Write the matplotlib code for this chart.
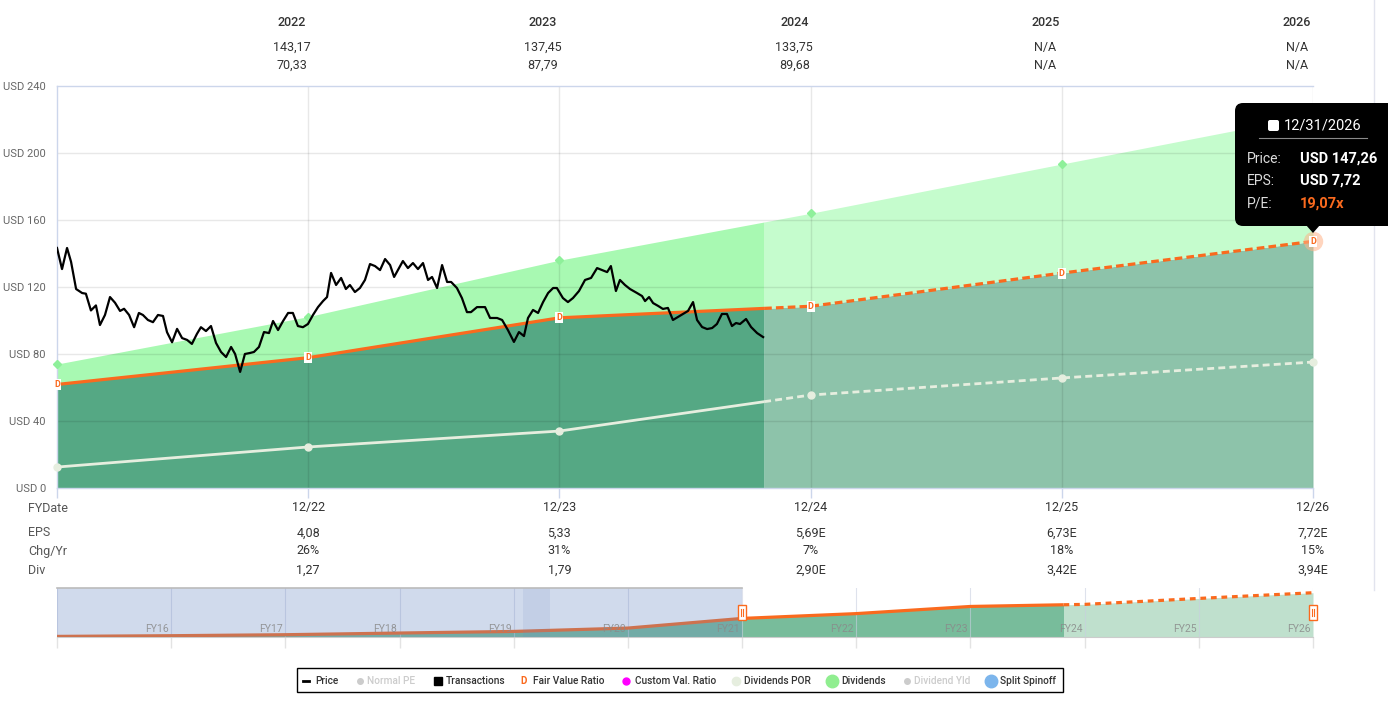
import matplotlib
matplotlib.use('Agg')
import matplotlib.pyplot as plt
import numpy as np
from matplotlib import transforms
from matplotlib.patches import FancyBboxPatch, Rectangle, Polygon

plt.rcParams['font.family'] = ['Roboto', 'DejaVu Sans']

# ---------------- data ----------------
fy_pos = [0, 1, 2, 3, 4, 5]
fy_labels = ['', '12/22', '12/23', '12/24', '12/25', '12/26']
fair_value = [61.8, 77.8, 101.6, 108.5, 128.3, 147.26]
div_por = [12.5, 24.5, 34.0, 55.5, 65.7, 75.2]
div_top = [74.0, 102.3, 136.0, 164.0, 193.4, 222.5]
today = 2.815

price_t = [0.000, 0.020, 0.040, 0.056, 0.076, 0.100, 0.115, 0.135, 0.155, 0.171,
           0.191, 0.211, 0.231, 0.251, 0.267, 0.287, 0.307, 0.326, 0.342, 0.362,
           0.382, 0.402, 0.422, 0.438, 0.458, 0.478, 0.498, 0.518, 0.537, 0.557,
           0.573, 0.593, 0.613, 0.633, 0.653, 0.673, 0.693, 0.709, 0.729, 0.748,
           0.768, 0.784, 0.804, 0.824, 0.844, 0.860, 0.880, 0.900, 0.920, 0.939,
           0.959, 0.979, 0.999, 1.019, 1.039, 1.059, 1.075, 1.091, 1.111, 1.131,
           1.150, 1.166, 1.186, 1.206, 1.226, 1.246, 1.266, 1.286, 1.306, 1.326,
           1.342, 1.377, 1.397, 1.417, 1.437, 1.457, 1.477, 1.493, 1.513, 1.533,
           1.553, 1.569, 1.592, 1.612, 1.632, 1.648, 1.672, 1.704, 1.724, 1.752,
           1.772, 1.795, 1.819, 1.839, 1.859, 1.875, 1.895, 1.915, 1.935, 1.955,
           1.975, 1.990, 2.014, 2.034, 2.054, 2.078, 2.102, 2.126, 2.150, 2.170,
           2.190, 2.205, 2.225, 2.241, 2.261, 2.281, 2.309, 2.329, 2.341, 2.357,
           2.373, 2.393, 2.412, 2.432, 2.452, 2.472, 2.492, 2.512, 2.532, 2.548,
           2.568, 2.588, 2.608, 2.627, 2.647, 2.667, 2.687, 2.703, 2.719, 2.743,
           2.763, 2.787, 2.811]
price_v = [143.3, 130.7, 143.3, 135.0, 118.8, 116.4, 116.0, 106.0, 109.0, 97.3,
           103.3, 114.0, 110.6, 105.7, 107.0, 103.3, 96.0, 104.5, 103.3, 100.3,
           99.0, 103.3, 102.7, 93.0, 87.0, 95.0, 89.5, 88.4, 86.0, 92.0,
           96.0, 93.7, 96.7, 86.6, 81.2, 78.2, 84.2, 80.0, 69.3, 80.0,
           80.6, 81.2, 84.2, 93.1, 92.5, 99.7, 94.3, 99.7, 104.5, 104.5,
           96.7, 96.0, 97.9, 103.3, 108.0, 111.6, 114.0, 128.4, 121.2, 125.4,
           118.8, 121.2, 117.0, 119.4, 124.2, 133.7, 132.5, 130.1, 136.7, 133.1,
           126.0, 135.5, 131.3, 134.3, 130.7, 134.3, 124.2, 126.0, 119.4, 133.1,
           123.0, 123.0, 119.4, 113.4, 105.0, 105.0, 108.0, 108.0, 101.5, 101.5,
           100.3, 94.3, 87.2, 93.1, 90.7, 101.5, 106.3, 104.5, 111.0, 116.4,
           119.4, 119.4, 113.4, 111.0, 113.4, 117.6, 124.2, 125.4, 131.3, 130.1,
           128.9, 132.5, 117.6, 124.2, 121.2, 118.8, 116.4, 114.6, 111.6, 114.0,
           110.4, 108.7, 106.9, 107.5, 100.3, 102.1, 103.9, 105.7, 111.0, 100.3,
           96.1, 94.9, 95.5, 97.9, 103.9, 103.9, 96.7, 98.5, 97.9, 100.9,
           96.1, 92.5, 90.1]

header_years = ['2022', '2023', '2024', '2025', '2026']
header_high = ['143,17', '137,45', '133,75', 'N/A', 'N/A']
header_low = ['70,33', '87,79', '89,68', 'N/A', 'N/A']
eps_labels = ['4,08', '5,33', '5,69E', '6,73E', '7,72E']
chg_labels = ['26%', '31%', '7%', '18%', '15%']
div_labels = ['1,27', '1,79', '2,90E', '3,42E', '3,94E']
row_names = ['EPS', 'Chg/Yr', 'Div']

nav_years = list(range(2015, 2027))
nav_fv_hist = [2.0, 4.3, 7.6, 13.2, 18.5, 29.7]   # FY15..FY20
nav_labels = ['FY16', 'FY17', 'FY18', 'FY19', 'FY20', 'FY21',
              'FY22', 'FY23', 'FY24', 'FY25', 'FY26']

tooltip_date = '12/31/2026'
tooltip_eps = 'USD 7,72'
tooltip_pe = '19,07x'

legend_items = ['Price', 'Normal PE', 'Transactions', 'Fair Value Ratio',
                'Custom Val. Ratio', 'Dividends POR', 'Dividends',
                'Dividend Yld', 'Split Spinoff']

# ---------------- colors ----------------
ORANGE = '#fa6a1e'
DARK_G = '#55a884'
DARK_G_F = '#8dc3aa'
LIGHT_G = '#a8f9b2'
LIGHT_G_F = '#c5fccd'
WHITE_L = '#e6eedf'
AXC = '#ccd6eb'

W, H = 1388, 710
fig = plt.figure(figsize=(W / 100, H / 100), dpi=100)
ax = fig.add_axes([57 / W, 1 - 488 / H, 1256 / W, 402 / H])
nav = fig.add_axes([57 / W, 1 - 637 / H, 1256 / W, 49 / H])
ov = fig.add_axes([0, 0, 1, 1], zorder=10)
ov.set_xlim(0, W)
ov.set_ylim(H, 0)
ov.axis('off')

# ---------------- main chart ----------------
ax.set_xlim(0, 5)
ax.set_ylim(0, 240)

def split(xs, ys, cut):
    yc = float(np.interp(cut, xs, ys))
    hx = [x for x in xs if x < cut] + [cut]
    hy = [y for x, y in zip(xs, ys) if x < cut] + [yc]
    fx = [cut] + [x for x in xs if x > cut]
    fy = [yc] + [y for x, y in zip(xs, ys) if x > cut]
    return hx, hy, fx, fy

hx, hfv, fx, ffv = split(fy_pos, fair_value, today)
_, htop, _, ftop = split(fy_pos, div_top, today)
_, hpor, _, fpor = split(fy_pos, div_por, today)

ax.fill_between(hx, 0, hfv, color=DARK_G, lw=0, zorder=1)
ax.fill_between(hx, hfv, htop, color=LIGHT_G, lw=0, zorder=1)
ax.fill_between(fx, 0, ffv, color=DARK_G_F, lw=0, zorder=1)
ax.fill_between(fx, ffv, ftop, color=LIGHT_G_F, lw=0, zorder=1)

yt = list(range(0, 241, 40))
for y in yt[1:-1]:
    ax.axhline(y, color='black', alpha=0.09, lw=1, zorder=2)
for x in fy_pos[1:]:
    ax.axvline(x, color='black', alpha=0.09, lw=1, zorder=2)

ax.set_yticks(yt)
ax.set_yticklabels(['USD %d' % v for v in yt])
ax.tick_params(axis='y', length=0, pad=8, labelsize=8, labelcolor='#666666')
ax.set_xticks(fy_pos)
ax.set_xticklabels([''] * len(fy_pos))
ax.tick_params(axis='x', length=7.5, color=AXC, width=1)
for s in ['left', 'bottom', 'top']:
    ax.spines[s].set_color(AXC)
    ax.spines[s].set_linewidth(1)
ax.spines['right'].set_visible(False)

# dividends POR line
ax.plot(hx, hpor, color=WHITE_L, lw=2, zorder=3, solid_capstyle='butt')
ax.plot(fx, fpor, color=WHITE_L, lw=2, ls=(0, (2.5, 1.5)), zorder=3)
ax.plot(fy_pos, div_por, 'o', ms=5, color=WHITE_L, zorder=3, clip_on=False)
# top-of-dividends markers
ax.plot(fy_pos[:-1], div_top[:-1], 'D', ms=4.5, color='#8ef09a', zorder=3, clip_on=False)

# fair value line
ax.plot(hx, hfv, color=ORANGE, lw=2.3, zorder=4, solid_capstyle='butt')
ax.plot(fx, ffv, color=ORANGE, lw=2.3, ls=(0, (2.4, 1.3)), zorder=4)

# price
ax.plot(price_t, price_v, color='black', lw=1.6, zorder=5)

# highlight halo
ax.plot(fy_pos[-1], fair_value[-1], 'o', ms=14, color='#ffb38a', alpha=0.55,
        mec='none', zorder=6, clip_on=False)
for x, y in zip(fy_pos, fair_value):
    ax.text(x, y, 'D', ha='center', va='center', fontsize=6.5, color=ORANGE,
            fontweight='bold', zorder=7, clip_on=False,
            bbox=dict(boxstyle='square,pad=0.12', fc='white', ec='none'))

# ---------------- header & bottom tables ----------------
tr = transforms.blended_transform_factory(ax.transData, ov.transData)
for i, p in enumerate(fy_pos[1:]):
    xc = p - 0.065
    ov.text(xc, 22, header_years[i], transform=tr, ha='center', va='center',
            fontsize=9, color='#333333', fontweight='medium')
    ov.text(xc, 47, header_high[i], transform=tr, ha='center', va='center',
            fontsize=9, color='#333333')
    ov.text(xc, 65, header_low[i], transform=tr, ha='center', va='center',
            fontsize=9, color='#333333')
    ov.text(p, 508, fy_labels[i + 1], transform=tr, ha='center', va='center',
            fontsize=9, color='#333333')
    ov.text(p, 533, eps_labels[i], transform=tr, ha='center', va='center',
            fontsize=9, color='#333333')
    ov.text(p, 551, chg_labels[i], transform=tr, ha='center', va='center',
            fontsize=9, color='#333333')
    ov.text(p, 570, div_labels[i], transform=tr, ha='center', va='center',
            fontsize=9, color='#333333')

ov.text(28, 508, 'FYDate', ha='left', va='center', fontsize=9, color='#555555')
for name, yy in zip(row_names, [533, 551, 570]):
    ov.text(28, yy, name, ha='left', va='center', fontsize=9, color='#555555')

# right border line
ov.plot([1374, 1374], [0, 590], color='#e2e4ee', lw=1)

# ---------------- navigator ----------------
nav.set_xlim(nav_years[0], nav_years[-1])
nav.set_ylim(0, 163)
nav_fv = nav_fv_hist + fair_value
nav_today = 2021 + today
nhx, nhy, nfx, nfy = split(nav_years, nav_fv, nav_today)
nav.fill_between(nhx, 0, nhy, color='#78bc9b', lw=0, zorder=1)
nav.fill_between(nfx, 0, nfy, color='#bfe0cd', lw=0, zorder=1)
nav.plot(nhx, nhy, color=ORANGE, lw=2.3, zorder=3, solid_capstyle='butt')
nav.plot(nfx, nfy, color=ORANGE, lw=2.3, ls=(0, (1.8, 1.5)), zorder=3)
nav.set_xticks(nav_years)
nav.set_xticklabels([''] * len(nav_years))
nav.set_yticks([])
nav.tick_params(axis='x', length=8, color='#e3e3e3', width=1)
for x in nav_years:
    nav.axvline(x, color='#c8cfe0', lw=0.8, alpha=0.6, zorder=2)
for s in ['left', 'right', 'top']:
    nav.spines[s].set_visible(False)
nav.spines['bottom'].set_color('#cccccc')
# selection mask
nav.add_patch(Rectangle((2015, 0), 6, 163, fc='#6685c2', alpha=0.3, lw=0, zorder=4))
nav.add_patch(Rectangle((2019.08, 0), 0.24, 163, fc='#6685c2', alpha=0.12, lw=0, zorder=4))
nav.plot([2015, 2021], [163, 163], color='#bbbbbb', lw=1.2, zorder=5, clip_on=False)
ntr = transforms.blended_transform_factory(nav.transData, ov.transData)
for lab, yr in zip(nav_labels, nav_years[1:]):
    ov.text(yr - 0.02, 629, lab, transform=ntr, ha='right', va='center',
            fontsize=7.5, color='#8a8a8a', alpha=0.85)
for hxp in [2021, 2026]:
    ov.add_patch(Rectangle((hxp - 0.035, 605), 0.07, 15, transform=ntr,
                           fc='white', ec=ORANGE, lw=1, zorder=12, clip_on=False))
    for dx in (-0.009, 0.009):
        ov.plot([hxp + dx, hxp + dx], [609, 616], transform=ntr, color=ORANGE,
                lw=0.8, zorder=13)

# ---------------- legend ----------------
ov.add_patch(Rectangle((297, 668), 766, 24, fill=False, ec='black', lw=1))
LY = 681
ov.plot([303, 309], [LY, LY], color='black', lw=2)
ov.plot([360], [LY], 'o', ms=4, color='#cccccc')
ov.plot([438], [LY], 's', ms=6, color='black')
ov.text(524, LY, 'D', ha='center', va='center', fontsize=7, color=ORANGE, fontweight='bold')
ov.plot([626], [LY], 'o', ms=5, color='#ff00ff')
ov.plot([736], [LY], 'o', ms=6, color=WHITE_L)
ov.plot([832], [LY], 'o', ms=9, color='#90ee90')
ov.plot([907], [LY], 'o', ms=4, color='#cccccc')
ov.plot([991], [LY], 'o', ms=9, color='#7cb5ec')
leg_x = [315, 367, 446, 533, 635, 744, 841, 914, 1000]
faded = {'Normal PE', 'Dividend Yld'}
for lab, lx in zip(legend_items, leg_x):
    ov.text(lx, LY, lab, ha='left', va='center', fontsize=7.3, fontweight='medium',
            color='#cccccc' if lab in faded else '#333333')

# ---------------- tooltip ----------------
ov.add_patch(FancyBboxPatch((1235, 103), 175, 123,
                            boxstyle='round,pad=0,rounding_size=8',
                            fc='black', ec='none', zorder=20, clip_on=False))
ov.add_patch(Polygon([(1306, 225), (1320, 225), (1313, 233)], closed=True,
                     fc='black', ec='none', zorder=20))
ov.add_patch(FancyBboxPatch((1268, 120), 11, 11, boxstyle='round,pad=0,rounding_size=2',
                            fc='white', ec='none', zorder=21))
ov.text(1284, 126, tooltip_date, ha='left', va='center', fontsize=10.5,
        color='white', zorder=21)
ov.plot([1259, 1367], [137.5, 137.5], color='#8a8a8a', lw=0.8, zorder=21)
tip_rows = [('Price:', 'USD ' + ('%.2f' % fair_value[-1]).replace('.', ','), 'white'),
            ('EPS:', tooltip_eps, 'white'),
            ('P/E:', tooltip_pe, ORANGE)]
for (lab, val, c), yy in zip(tip_rows, [159, 181, 204]):
    ov.text(1247, yy, lab, ha='left', va='center', fontsize=10, color='#dddddd', zorder=21)
    ov.text(1300, yy, val, ha='left', va='center', fontsize=10.5, color=c,
            fontweight='bold', zorder=21)

fig.savefig('out.png', dpi=100)
